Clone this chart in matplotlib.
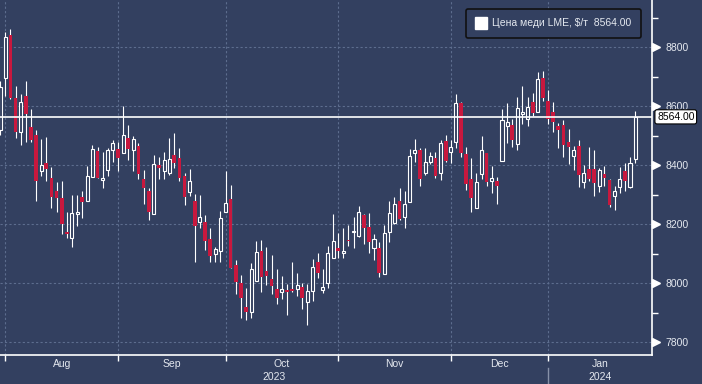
import numpy as np
import matplotlib
matplotlib.use('Agg')
import matplotlib.pyplot as plt
import matplotlib.transforms as mtransforms
from matplotlib.lines import Line2D

plt.rcParams['font.family'] = ['Liberation Sans', 'DejaVu Sans']

# daily LME copper candles, 31 Jul 2023 .. late Jan 2024 (trading days)
opens = [8518, 8695, 8842, 8627, 8512, 8633, 8529, 8503, 8379, 8407,
         8356, 8312, 8288, 8174, 8153, 8236, 8292, 8280, 8359, 8449,
         8351, 8383, 8450, 8455, 8443, 8492, 8450, 8466, 8354, 8313,
         8236, 8401, 8382, 8375, 8434, 8424, 8362, 8311, 8279, 8209,
         8209, 8150, 8099, 8110, 8240, 8286, 8062, 8002, 7921, 7904,
         8009, 8111, 8040, 8014, 7980, 7972, 7977, 7981, 7980, 7986,
         7936, 7975, 8073, 7977, 8002, 8085, 8119, 8101, 8146, 8173,
         8159, 8232, 8191, 8119, 8119, 8030, 8175, 8203, 8279, 8225,
         8277, 8443, 8452, 8374, 8412, 8424, 8375, 8482, 8446, 8478,
         8612, 8437, 8353, 8254, 8372, 8442, 8348, 8346, 8416, 8532,
         8537, 8471, 8575, 8557, 8614, 8580, 8695, 8619, 8582, 8533,
         8537, 8478, 8430, 8466, 8342, 8388, 8388, 8329, 8372, 8349,
         8297, 8328, 8379, 8325, 8420]
highs = [8684, 8851, 8862, 8669, 8641, 8686, 8590, 8519, 8489, 8496,
         8393, 8343, 8348, 8241, 8299, 8299, 8313, 8398, 8469, 8461,
         8446, 8460, 8486, 8480, 8601, 8537, 8499, 8477, 8384, 8322,
         8435, 8427, 8445, 8492, 8510, 8458, 8373, 8388, 8302, 8299,
         8232, 8186, 8124, 8245, 8381, 8333, 8079, 8028, 7983, 8069,
         8143, 8146, 8123, 8096, 8049, 8026, 7999, 8071, 8034, 8002,
         7997, 8082, 8104, 8047, 8127, 8234, 8171, 8186, 8198, 8223,
         8262, 8235, 8238, 8168, 8139, 8198, 8279, 8293, 8324, 8313,
         8454, 8489, 8458, 8460, 8446, 8446, 8486, 8503, 8485, 8642,
         8616, 8463, 8424, 8373, 8499, 8442, 8397, 8359, 8590, 8610,
         8556, 8632, 8669, 8632, 8644, 8715, 8720, 8655, 8614, 8543,
         8554, 8523, 8464, 8486, 8401, 8462, 8452, 8392, 8398, 8354,
         8329, 8393, 8407, 8427, 8583]
lows = [8503, 8633, 8625, 8494, 8467, 8478, 8478, 8280, 8362, 8348,
        8256, 8241, 8167, 8153, 8124, 8195, 8220, 8280, 8359, 8358,
        8324, 8365, 8410, 8379, 8443, 8418, 8379, 8354, 8269, 8215,
        8236, 8354, 8354, 8367, 8392, 8345, 8266, 8296, 8073, 8186,
        8113, 8073, 8073, 8073, 8240, 8053, 7963, 7884, 7876, 7884,
        8009, 7972, 7994, 7963, 7931, 7947, 7893, 7972, 7958, 7913,
        7859, 7940, 8017, 7966, 7983, 8085, 8085, 8085, 8128, 8121,
        8157, 8134, 8103, 8078, 8023, 8030, 8141, 8200, 8215, 8189,
        8277, 8412, 8331, 8367, 8403, 8358, 8349, 8410, 8407, 8460,
        8428, 8317, 8243, 8254, 8354, 8331, 8307, 8270, 8416, 8475,
        8461, 8453, 8540, 8534, 8568, 8580, 8618, 8540, 8514, 8460,
        8429, 8403, 8383, 8327, 8324, 8345, 8297, 8311, 8331, 8260,
        8249, 8305, 8314, 8322, 8407]
closes = [8664, 8834, 8629, 8512, 8614, 8573, 8484, 8348, 8400, 8386,
          8294, 8290, 8200, 8168, 8237, 8241, 8275, 8362, 8454, 8358,
          8356, 8451, 8477, 8424, 8503, 8454, 8488, 8372, 8322, 8243,
          8403, 8392, 8417, 8420, 8406, 8358, 8294, 8347, 8195, 8224,
          8145, 8091, 8116, 8220, 8271, 8053, 8006, 7951, 7902, 8047,
          8105, 8023, 8026, 7992, 7949, 7980, 7972, 7973, 7993, 7949,
          7974, 8054, 8034, 7986, 8102, 8143, 8111, 8111, 8143, 8177,
          8241, 8186, 8141, 8149, 8034, 8169, 8237, 8268, 8218, 8268,
          8432, 8452, 8355, 8411, 8432, 8365, 8475, 8415, 8463, 8610,
          8442, 8336, 8288, 8342, 8451, 8342, 8356, 8331, 8553, 8548,
          8485, 8593, 8580, 8597, 8576, 8693, 8627, 8557, 8546, 8519,
          8467, 8463, 8451, 8367, 8373, 8354, 8339, 8385, 8358, 8266,
          8313, 8354, 8345, 8408, 8564]

month_starts = [1, 23, 44, 66, 88, 107]
month_names = ['Aug', 'Sep', 'Oct', 'Nov', 'Dec', 'Jan']
last_price = 8564.00

bg = '#334060'
red = '#c8183e'
txt = '#e4e8ef'
grid_c = '#5d6d8e'

o = np.array(opens, dtype=float)
h = np.array(highs, dtype=float)
l = np.array(lows, dtype=float)
c = np.array(closes, dtype=float)
x = np.arange(len(o))
up = c >= o

fig = plt.figure(figsize=(7.02, 3.84), dpi=100, facecolor=bg)
ax = fig.add_axes([0, 29 / 384, 652 / 702, 355 / 384], facecolor=bg)

xmin, xmax = -0.05, 127.3
ax.set_xlim(xmin, xmax)
ax.set_ylim(7757, 8960)

# candles
ax.vlines(x, l, h, color='white', lw=0.8, zorder=3)
ax.bar(x[up], np.maximum(c - o, 1)[up], bottom=o[up], width=0.6,
       facecolor=bg, edgecolor='white', linewidth=0.8, zorder=4)
ax.bar(x[~up], np.maximum(o - c, 3)[~up], bottom=c[~up], width=0.72,
       color=red, linewidth=0, zorder=4)

# last price line
ax.axhline(last_price, color='white', lw=1.2, zorder=6)

# spines
for s in ['top', 'left']:
    ax.spines[s].set_visible(False)
for s in ['bottom', 'right']:
    ax.spines[s].set_color('white')
    ax.spines[s].set_linewidth(1.2)

# y axis on right
ax.yaxis.tick_right()
yt = list(range(7800, 8801, 200))
ax.set_yticks(yt)
ax.set_yticks(list(range(7900, 8901, 200)), minor=True)
ax.tick_params(axis='y', which='major', length=0, pad=10, labelsize=7.5, labelcolor=txt)
ax.tick_params(axis='y', which='minor', length=4, width=1, color='white', direction='out')

trans = mtransforms.blended_transform_factory(ax.transAxes, ax.transData)
ax.plot([1.0055] * len(yt), yt, marker='>', ms=5.5, color='white', ls='none',
        transform=trans, clip_on=False, zorder=5)

# x axis: month boundaries as ticks, names between
ax.set_xticks(month_starts)
ax.set_xticklabels([])
ax.tick_params(axis='x', which='major', length=4, width=1, color='white', direction='out')
bounds = month_starts + [xmax]
mids = [(bounds[i] + bounds[i + 1]) / 2 for i in range(len(month_starts))]
ax.set_xticks(mids, minor=True)
ax.set_xticklabels(month_names, minor=True)
ax.tick_params(axis='x', which='minor', length=0, pad=3, labelsize=7.5, labelcolor=txt)

ax.grid(True, which='major', color=grid_c, ls=(0, (2, 2)), lw=0.8)
ax.set_axisbelow(True)

xtrans = mtransforms.blended_transform_factory(ax.transData, ax.transAxes)
ax.text((xmin + 107) / 2, -0.062, '2023', transform=xtrans, ha='center', va='center',
        fontsize=7.5, color=txt)
ax.text((107 + xmax) / 2, -0.062, '2024', transform=xtrans, ha='center', va='center',
        fontsize=7.5, color=txt)
ax.plot([107, 107], [-0.037, -0.09], transform=xtrans, color='#8791a8', lw=1, clip_on=False)

# price tag
ax.text(1.0077, last_price, '%.2f' % last_price, transform=trans, ha='left', va='center',
        fontsize=7.5, color='black', zorder=8,
        bbox=dict(boxstyle='round,pad=0.2', fc='white', ec='black', lw=0.8))

# legend
handle = Line2D([], [], marker='s', color='white', ls='none', ms=8,
                label='Цена меди LME, $/т  %.2f' % last_price)
leg = ax.legend(handles=[handle], loc='upper right', bbox_to_anchor=(641 / 652, 1 - 9 / 355),
                borderaxespad=0, frameon=True, facecolor=bg, edgecolor='#111111',
                fancybox=True, prop={'size': 7.5}, labelcolor=txt, handlelength=1,
                handletextpad=0.6, borderpad=0.9)
leg.get_frame().set_linewidth(1.2)
leg.get_frame().set_alpha(1)

fig.savefig('out.png', dpi=100, facecolor=bg)
